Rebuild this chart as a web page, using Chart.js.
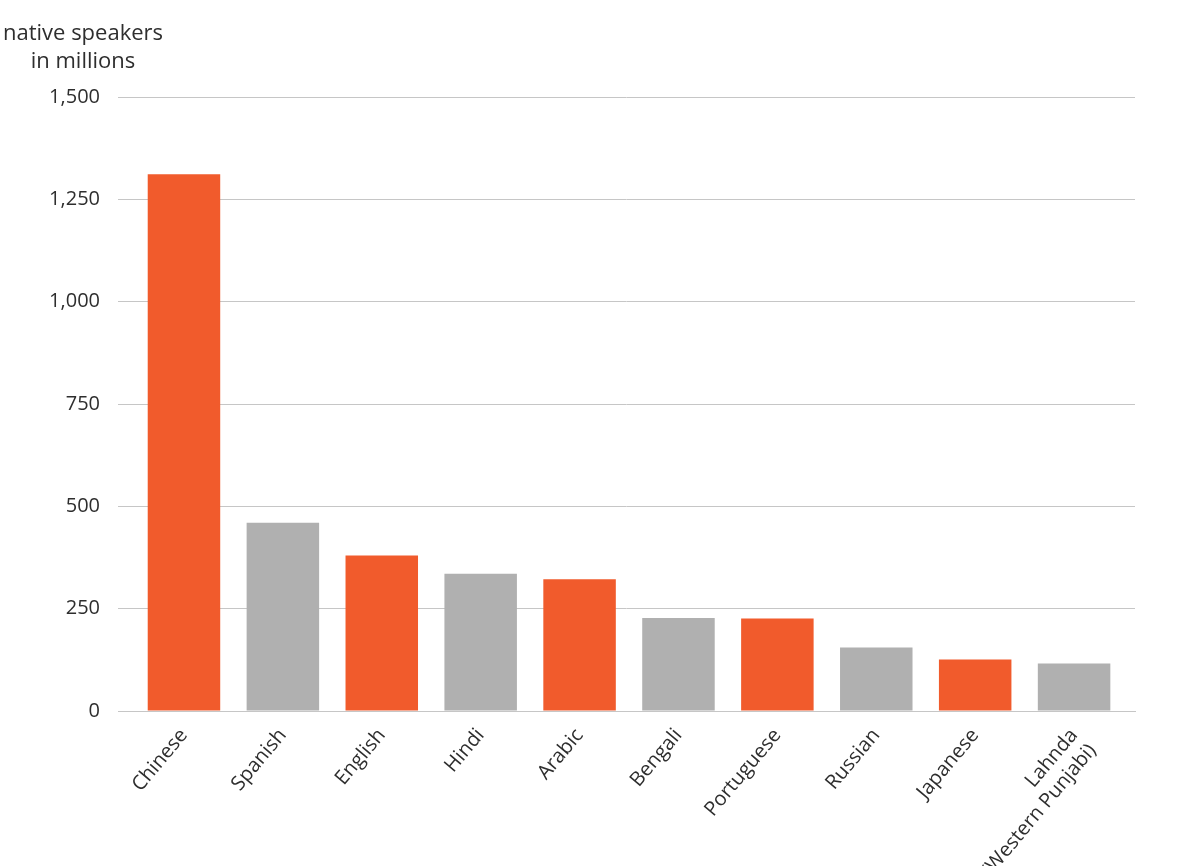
<!DOCTYPE html>
<html>
<head>
<meta charset="utf-8">
<script src="https://cdn.jsdelivr.net/npm/chart.js@4/dist/chart.umd.min.js"></script>
<style>
  body { margin: 0; background: #fff; }
  canvas { display: block; }
</style>
</head>
<body>
<canvas id="speakersChart" width="1200" height="866"></canvas>
<script>
/////////////////////////////// DATA ///////////////////////////////
const languages = ["Chinese", "Spanish", "English", "Hindi", "Arabic", "Bengali",
                   "Portuguese", "Russian", "Japanese", ["Lahnda", "(Western Punjabi)"]];
const speakers = [1311, 460, 380, 335, 322, 227, 226, 155, 126, 116];
const yTicks = [0, 250, 500, 750, 1000, 1250, 1500];
const titleLines = ["native speakers", "in millions"];

/////////////////////////////// COLORS ///////////////////////////////
const c_orange = "#F15B2C";
const c_gray = "#B0B0B0";
const c_grid = "#C6C6C6";
const c_text = "#2E2E2E";
const FONT = "'Open Sans', 'DejaVu Sans', sans-serif";

// alternate orange / gray like the original
const barColors = speakers.map((v, i) => (i % 2 === 0 ? c_orange : c_gray));

// unit title in the top left corner
const cornerTitle = {
    id: "cornerTitle",
    afterDraw(chart) {
        const ctx = chart.ctx;
        ctx.save();
        ctx.font = "22px " + FONT;
        ctx.fillStyle = c_text;
        ctx.textAlign = "center";
        ctx.textBaseline = "middle";
        titleLines.forEach((t, i) => ctx.fillText(t, 83, 34 + i * 28));
        ctx.restore();
    }
};

/////////////////////////////// CREATE CHART ///////////////////////////////
const ctx = document.getElementById("speakersChart").getContext("2d");
const speakersChart = new Chart(ctx, {
    type: "bar",
    data: {
        datasets: [{
            data: speakers.map((v, i) => ({ x: i, y: v })),
            backgroundColor: barColors,
            borderWidth: 0,
            barPercentage: 0.733,
            categoryPercentage: 1.0,
        }],
    },
    options: {
        responsive: false,
        animation: false,
        layout: { padding: { top: 97, right: 65, left: 0, bottom: 0 } },
        plugins: {
            legend: { display: false },
            tooltip: { enabled: false },
        },
        scales: {
            x: {
                type: "linear",
                bounds: "data",
                offset: false,
                min: -0.667,
                max: 9.616,
                grid: { display: false, drawTicks: false, offset: false },
                border: { display: true, color: c_grid, width: 1 },
                afterBuildTicks: (scale) => {
                    scale.ticks = languages.map((l, i) => ({ value: i }));
                },
                afterFit: (scale) => { scale.height = 155; },
                ticks: {
                    autoSkip: false,
                    minRotation: 50,
                    maxRotation: 50,
                    padding: 13,
                    color: c_text,
                    font: { family: FONT, size: 20 },
                    callback: (v) => languages[v],
                },
            },
            y: {
                min: 0,
                max: 1500,
                grid: { color: c_grid, lineWidth: 1, drawTicks: false },
                border: { display: false },
                afterBuildTicks: (scale) => {
                    scale.ticks = yTicks.map(v => ({ value: v }));
                },
                afterFit: (scale) => { scale.width = 118; },
                ticks: {
                    padding: 18,
                    color: c_text,
                    font: { family: FONT, size: 20 },
                    callback: (v) => v.toLocaleString("en-US"),
                },
            },
        },
    },
    plugins: [cornerTitle],
});
</script>
</body>
</html>
